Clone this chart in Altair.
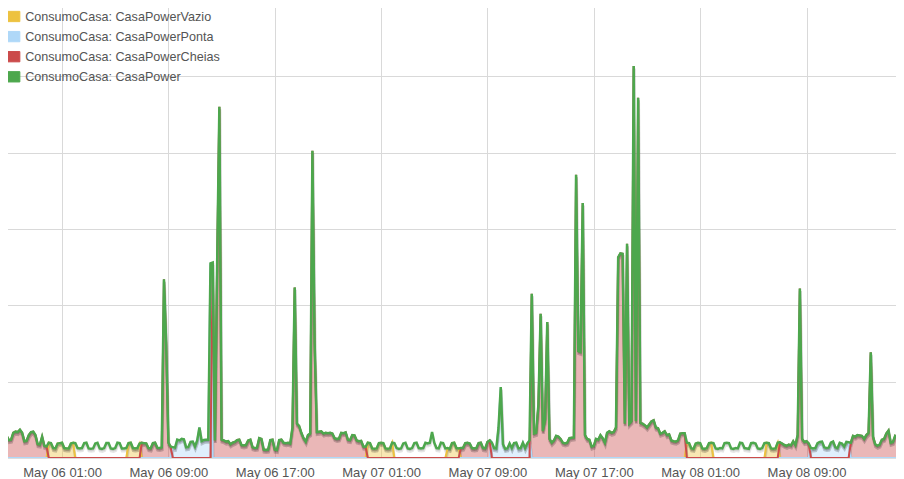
import altair as alt
import pandas as pd

# ---- data (CasaPower, W, one sample every 10 minutes from 2020-05-05 20:20) ----
POWER_MAY05_EVENING = [330, 340, 330, 290, 235, 240, 330, 345, 340, 370, 330, 220, 225, 300, 340, 345,
                       300, 180, 175, 280, 160, 150]
POWER_MAY06_NIGHT = [200, 195, 130, 125, 190, 195, 200, 130, 125, 125, 190, 200, 195, 130, 125, 130,
                     195, 200, 125, 120, 125, 190, 200, 125, 120, 130, 195, 195, 125, 120, 130, 200,
                     195, 125, 125, 130, 195, 200, 130, 125, 130, 190, 200]
POWER_MAY06_MORNING = [195, 190, 130, 125, 195, 200, 135, 130, 140, 2340, 1500, 200, 150]
POWER_MAY06_MIDDAY = [140, 135, 240, 230, 250, 245, 140, 145, 210, 215, 150, 230, 400, 220, 235, 240,
                      240, 2550, 2560, 230, 2540, 4600, 240]
POWER_MAY06_AFTERNOON = [230, 215, 220, 180, 200, 210, 235, 240, 170, 165, 170, 230, 240, 140, 130, 135,
                         260, 250, 110, 105, 110, 235, 240, 110, 105, 235, 240, 200, 195, 200, 190, 400,
                         2235, 450, 420, 330, 260, 215, 300, 320, 4025, 1500, 340, 345, 350, 320, 330,
                         325, 330, 320, 260, 250, 255, 330, 325, 335, 240, 235, 300, 295, 230, 220, 225,
                         150, 145]
POWER_MAY07_NIGHT = [200, 195, 125, 120, 125, 195, 200, 195, 125, 120, 125, 200, 195, 130, 120, 125,
                     190, 200, 125, 120, 130, 195, 200, 130, 125, 130, 200, 190, 200, 340, 200, 130,
                     125, 200, 195, 125, 130, 120, 195, 200, 130, 125, 130]
POWER_MAY07_MORNING = [135, 195, 200, 190, 130, 125, 130, 195, 200, 130, 125, 210, 230]
POWER_MAY07_DAY = [200, 130, 125, 400, 930, 180, 120, 125, 190, 130, 195, 200, 125, 130, 200, 130,
                   190, 230, 2150, 320, 330, 700, 1890, 350, 500, 1780, 250, 200, 230, 290, 280, 250,
                   200, 190, 200, 260, 265, 270, 3710, 1400, 1390, 3340, 300, 250, 240, 150, 160, 250,
                   240, 300, 260, 200, 330, 350, 330, 340, 400, 2630, 2680, 2675, 450, 2805, 450, 480,
                   5135, 480, 4720, 460, 450, 430, 400, 440, 480, 495, 400, 390, 320, 330, 350, 300,
                   310, 230, 220, 215, 230, 320, 325, 325]
POWER_MAY08 = [200, 195, 125, 120, 190, 200, 195, 125, 120, 130, 195, 200, 195, 125, 120, 130, 125,
               195, 200, 195, 125, 120, 130, 125, 200, 195, 130, 125, 120, 195, 200, 190, 125, 120,
               130, 195, 200, 195, 125, 120, 125, 200, 205, 190, 170, 160, 175, 165, 220, 170, 300,
               2220, 250, 210, 220, 190, 130, 125, 130, 195, 210, 215, 140, 130, 135, 200, 215, 140,
               130, 200, 190, 150, 210, 205, 200, 290, 280, 300, 295, 290, 250, 300, 330, 1385, 280,
               180, 160, 175, 240, 250, 320, 360, 200, 210, 290, 270, 280, 220, 170]

START = "2020-05-05 20:20"
STEP = "10min"

# tariff windows of the day (start minute, end minute, series); 02:00-06:00 belongs to none of them
TARIFF_START = [0, 120, 360, 420, 555, 735]
TARIFF_END = [120, 360, 420, 555, 735, 1440]
TARIFF_NAME = ["Vazio", None, "Vazio", "Cheias", "Ponta", "Cheias"]

SERIES = ["ConsumoCasa: CasaPowerVazio", "ConsumoCasa: CasaPowerPonta",
          "ConsumoCasa: CasaPowerCheias", "ConsumoCasa: CasaPower"]
SERIES_KEY = ["Vazio", "Ponta", "Cheias", None]
COLORS = ["#edc240", "#afd8f8", "#cb4b4b", "#4da74d"]
LINE_WIDTH = [2, 2, 2, 2.5]

TICKS = [(6, 1), (6, 9), (6, 17), (7, 1), (7, 9), (7, 17), (8, 1), (8, 9)]

# ---- build the table ----
power = (POWER_MAY05_EVENING + POWER_MAY06_NIGHT + POWER_MAY06_MORNING + POWER_MAY06_MIDDAY
         + POWER_MAY06_AFTERNOON + POWER_MAY07_NIGHT + POWER_MAY07_MORNING + POWER_MAY07_DAY
         + POWER_MAY08)
times = pd.date_range(START, periods=len(power), freq=STEP)


def tariff_of(ts):
    m = ts.hour * 60 + ts.minute
    for a, b, n in zip(TARIFF_START, TARIFF_END, TARIFF_NAME):
        if a <= m < b:
            return n
    return None


rows = []
for name, key in zip(SERIES, SERIES_KEY):
    for ts, p in zip(times, power):
        if key is None:
            v = p
        else:
            v = p if tariff_of(ts) == key else 0
        rows.append({"t": ts, "v": v, "s": name})
df = pd.DataFrame(rows)
legend_df = pd.DataFrame({"s": SERIES})

FONT = "Liberation Sans"

x_enc = alt.X(
    "t:T",
    scale=alt.Scale(domain=[alt.DateTime(year=2020, month=5, date=5, hours=20, minutes=20),
                            alt.DateTime(year=2020, month=5, date=8, hours=16, minutes=20)]),
    axis=alt.Axis(values=[alt.DateTime(year=2020, month=5, date=d, hours=h) for d, h in TICKS],
                  format="%b %d %H:%M", title=None, labelFont=FONT, labelFontSize=13,
                  labelColor="#545454", grid=True, gridColor="#d9d9d9", gridWidth=1,
                  ticks=False, tickSize=0, domain=False, labelPadding=8),
)
y_enc = alt.Y(
    "v:Q", stack=None,
    scale=alt.Scale(domain=[0, 6000], nice=False, zero=True),
    axis=alt.Axis(values=[1000, 2000, 3000, 4000, 5000, 6000], labels=False, ticks=False,
                  domain=False, title=None, grid=True, gridColor="#d9d9d9", gridWidth=1),
)
color_enc = alt.Color(
    "s:N",
    scale=alt.Scale(domain=SERIES, range=COLORS),
    legend=alt.Legend(
        title=None, orient="none", legendX=4.7, legendY=8.5, padding=0, offset=0,
        symbolType="M-1,-0.72H1V0.72H-1Z", symbolSize=205, symbolStrokeWidth=1,
        symbolStrokeColor="#cccccc", symbolOffset=0, symbolOpacity=1,
        labelFont=FONT, labelFontSize=12.6, labelColor="#545454", labelLimit=400,
        labelOffset=4.5, rowPadding=4.1,
    ),
)

base = alt.Chart(df)

# legend-source layer: filled squares kept outside the visible page
legend_layer = alt.Chart(legend_df).mark_square(filled=True, opacity=1, size=100).encode(
    x=alt.value(-60), y=alt.value(-60), color=color_enc)

areas = base.transform_filter(
    alt.FieldOneOfPredicate(field="s", oneOf=SERIES[:3])
).mark_area(opacity=1, fillOpacity=0.4, clip=True).encode(x=x_enc, y=y_enc, color=color_enc)

shadow_wide = base.mark_line(color="#000000", strokeOpacity=0.1, strokeWidth=3, xOffset=0.4,
                             yOffset=2.5, clip=True).encode(x=x_enc, y=y_enc, detail="s:N")
shadow_thin = base.mark_line(color="#000000", strokeOpacity=0.1, strokeWidth=1.5, xOffset=0.3,
                             yOffset=1.7, clip=True).encode(x=x_enc, y=y_enc, detail="s:N")

lines = [
    base.transform_filter(alt.datum.s == name).mark_line(strokeWidth=w, clip=True).encode(
        x=x_enc, y=y_enc, color=color_enc)
    for name, w in zip(SERIES, LINE_WIDTH)
]

chart = alt.layer(legend_layer, areas, shadow_wide, shadow_thin, *lines).properties(
    width=904, height=458,
    padding={"left": -8, "top": -8, "right": -8, "bottom": 22},
    autosize=alt.AutoSizeParams(type="none"),
).configure_view(strokeWidth=0).configure(background="white")

chart.save("out.html", embed_options={"renderer": "svg", "actions": False})
